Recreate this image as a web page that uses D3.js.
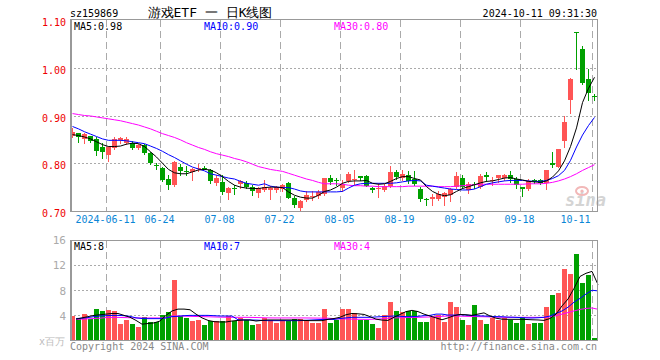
<!DOCTYPE html>
<html><head><meta charset="utf-8">
<script src="https://cdn.jsdelivr.net/npm/d3@7"></script>
<style>
body{margin:0;background:#fff;}
svg{display:block;}
text{font-family:"DejaVu Sans Mono",monospace;}
</style></head><body><svg id="c" width="660" height="360"></svg>
<script>
const dates = ["05-31","06-03","06-04","06-05","06-06","06-07","06-11","06-12","06-13","06-14","06-17","06-18","06-19","06-20","06-21",
"06-24","06-25","06-26","06-27","06-28","07-01","07-02","07-03","07-04","07-05","07-08","07-09","07-10","07-11","07-12",
"07-15","07-16","07-17","07-18","07-19","07-22","07-23","07-24","07-25","07-26","07-29","07-30","07-31","08-01","08-02",
"08-05","08-06","08-07","08-08","08-09","08-12","08-13","08-14","08-15","08-16","08-19","08-20","08-21","08-22","08-23",
"08-26","08-27","08-28","08-29","08-30","09-02","09-03","09-04","09-05","09-06","09-09","09-10","09-11","09-12","09-13",
"09-18","09-19","09-20","09-23","09-24","09-25","09-26","09-27","09-30","10-08","10-09","10-10","10-11"];
const openP = [.857,.8626,.8515,.857,.8515,.8334,.8166,.8319,.848,.843,.843,.832,.8376,.8208,.797,
.790,.7664,.7538,.7928,.7843,.7815,.7895,.791,.7859,.7593,.7607,.7384,.7485,.7566,.7593,
.751,.737,.7434,.7434,.745,.746,.7586,.7279,.7056,.7237,.7303,.732,.735,.7685,.765,
.7475,.7628,.765,.774,.7725,.749,.747,.7446,.753,.7823,.7685,.7755,.767,.7454,.7245,
.7245,.7258,.730,.7328,.7497,.7691,.744,.7555,.7509,.7747,.7625,.769,.769,.7747,.7664,
.751,.7455,.764,.764,.758,.801,.7928,.8473,.9325,1.075,1.0387,.9758,.9415];
const highP = [.873,.864,.863,.858,.854,.842,.836,.8544,.854,.854,.847,.840,.840,.823,.801,
.793,.7747,.804,.799,.7943,.790,.7985,.795,.7887,.776,.7747,.750,.7545,.765,.762,
.754,.750,.764,.753,.752,.757,.7614,.732,.723,.742,.742,.745,.7695,.7755,.7685,
.764,.782,.7865,.774,.775,.750,.758,.757,.795,.786,.786,.784,.783,.7497,.727,
.735,.7415,.740,.749,.7817,.776,.760,.760,.778,.781,.7705,.776,.778,.7845,.772,
.751,.768,.766,.768,.786,.8236,.8292,.899,.978,1.075,1.0455,.998,.945];
const lowP = [.855,.8445,.8427,.845,.818,.811,.8054,.829,.843,.840,.829,.829,.820,.799,.787,
.762,.7467,.752,.775,.775,.765,.7835,.7875,.7586,.7538,.7356,.7258,.7365,.748,.7485,
.7343,.730,.741,.725,.740,.741,.7265,.7084,.7027,.721,.7237,.727,.7337,.757,.7545,
.742,.760,.756,.765,.752,.740,.729,.742,.750,.767,.764,.758,.755,.7216,.712,
.713,.723,.712,.7216,.7475,.749,.738,.748,.748,.762,.755,.760,.765,.760,.748,
.7315,.744,.758,.7555,.7467,.7915,.7915,.8348,.906,.998,.966,.9325,.9325];
const closeP = [.866,.8544,.8613,.8473,.825,.8236,.8347,.8515,.852,.850,.832,.8376,.8222,.801,.7965,
.765,.755,.8026,.783,.7835,.7886,.7905,.790,.7635,.769,.7398,.7482,.748,.7622,.751,
.7413,.748,.7503,.749,.750,.7545,.7279,.7125,.721,.7336,.7315,.7405,.7685,.7614,.762,
.7559,.778,.767,.770,.753,.7434,.748,.753,.7823,.7712,.7768,.763,.757,.7258,.7230,
.7287,.7356,.7384,.7468,.7733,.7509,.7566,.7545,.7733,.7705,.7645,.775,.776,.7664,.755,
.7455,.7635,.762,.758,.786,.797,.8292,.8864,.9771,1.075,.9687,.9478,.9405];
const ma5P = [.860,.858,.855,.851,.845,.839,.835,.835,.836,.840,.842,.841,.835,.824,.813,
.800,.787,.780,.778,.778,.782,.786,.787,.786,.780,.772,.762,.754,.750,.748,
.747,.747,.749,.750,.750,.749,.740,.733,.729,.727,.727,.733,.741,.744,.750,
.758,.762,.763,.763,.764,.758,.756,.757,.762,.768,.772,.772,.768,.765,.751,
.741,.735,.732,.734,.741,.747,.751,.755,.759,.762,.763,.766,.769,.770,.767,
.765,.762,.761,.760,.763,.771,.784,.805,.835,.874,.927,.957,.980];
const ma10P = [.877,.872,.866,.861,.856,.851,.848,.848,.848,.847,.845,.843,.841,.836,.831,
.825,.818,.812,.805,.798,.792,.788,.784,.778,.775,.772,.769,.767,.762,.758,
.756,.754,.757,.752,.750,.749,.749,.746,.742,.740,.740,.740,.740,.740,.740,
.741,.748,.754,.757,.758,.758,.758,.758,.758,.759,.761,.763,.764,.763,.754,
.752,.750,.748,.746,.745,.744,.744,.746,.751,.756,.759,.761,.763,.764,.764,
.764,.763,.762,.762,.764,.768,.774,.785,.806,.834,.859,.879,.896];
const ma30P = [.904,.902,.900,.899,.897,.895,.893,.891,.889,.886,.883,.880,.876,.872,.867,
.862,.858,.854,.849,.843,.838,.833,.829,.824,.820,.817,.814,.810,.807,.803,
.798,.793,.790,.787,.785,.783,.779,.775,.771,.767,.764,.760,.757,.757,.757,
.756,.754,.753,.753,.752,.752,.751,.751,.751,.751,.751,.752,.752,.752,.752,
.752,.751,.751,.751,.752,.753,.754,.755,.756,.756,.756,.756,.756,.756,.756,
.756,.757,.757,.757,.758,.760,.763,.767,.772,.778,.785,.791,.797];
const volume = [3.9,3.6,4.2,3.4,5.0,4.7,4.85,4.7,2.6,3.3,2.6,2.15,3.7,3.0,2.9,
4.1,4.5,9.6,3.9,3.6,3.1,3.3,2.5,3.1,3.1,3.1,3.9,3.1,3.6,3.3,
2.5,2.6,3.6,3.3,2.8,3.3,3.1,3.4,3.4,3.1,2.8,2.8,5.0,2.8,3.3,
5.0,5.0,4.4,3.3,3.3,2.6,2.0,4.1,6.2,4.7,4.6,4.7,4.7,3.0,3.0,
3.8,4.0,3.0,6.2,5.4,3.2,2.4,5.6,3.3,2.7,3.6,3.2,3.6,3.3,2.8,
3.8,2.6,2.8,2.8,5.3,7.2,7.6,11.4,10.6,13.8,9.2,10.4,0.4];
const ma5V = [3.4,3.6,3.8,4.0,4.1,4.2,4.3,4.3,4.0,3.7,3.2,2.6,2.7,2.8,3.1,
4.0,4.7,5.0,5.0,4.9,4.2,3.6,3.2,3.0,2.95,2.95,3.1,3.2,3.27,3.27,
3.1,3.2,3.27,3.27,3.27,3.27,3.27,3.27,3.2,3.16,3.16,3.16,3.37,3.5,3.7,
4.1,4.3,4.25,4.15,3.8,3.4,3.25,3.2,3.7,4.15,4.6,4.8,4.6,4.2,3.9,
3.6,3.3,3.6,3.95,4.15,4.1,4.0,4.2,4.4,3.9,3.55,3.4,3.37,3.37,3.37,
3.35,3.3,3.27,3.2,3.5,4.2,5.5,6.6,8.3,10.2,10.7,11.0,8.9];
const ma10V = [3.5,3.55,3.65,3.8,3.9,3.95,4.0,4.0,3.95,3.85,3.6,3.5,3.48,3.48,3.48,
3.6,3.8,3.85,3.95,4.0,4.0,4.0,4.0,3.95,3.9,3.9,3.9,3.3,3.27,3.27,
3.25,3.2,3.16,3.16,3.16,3.16,3.16,3.16,3.2,3.25,3.3,3.35,3.37,3.35,3.5,
3.6,3.69,3.69,3.69,3.69,3.75,3.8,3.85,3.9,3.85,3.8,3.8,3.85,3.95,4.0,
4.2,4.2,4.05,4.05,4.1,4.05,3.98,3.93,3.9,3.85,3.8,3.78,3.72,3.7,3.65,
3.6,3.58,3.62,3.69,3.9,4.3,4.7,5.3,6.1,6.7,7.4,8.0,7.9];
const ma30V = [3.37,3.4,3.45,3.5,3.55,3.65,3.68,3.68,3.65,3.62,3.6,3.59,3.59,3.59,3.59,
3.59,3.9,3.9,3.88,3.85,3.82,3.8,3.78,3.75,3.72,3.7,3.69,3.69,3.69,3.68,
3.66,3.63,3.6,3.59,3.59,3.59,3.59,3.59,3.59,3.58,3.57,3.56,3.55,3.48,3.45,
3.43,3.4,3.38,3.37,3.37,3.4,3.45,3.55,3.6,3.62,3.65,3.67,3.69,3.72,3.75,
3.8,3.85,3.9,3.91,3.88,3.85,3.82,3.8,3.78,3.75,3.72,3.7,3.69,3.69,3.69,
3.69,3.69,3.69,3.69,3.75,3.95,4.2,4.45,4.7,4.95,5.1,5.18,4.97];
const priceTicks = [0.70,0.80,0.90,1.00,1.10];
const volTicks = [4,8,12,16];
const dateTickIdx = [6,15,25,35,45,55,65,75,87];
const dateTickLabels = ["2024-06-11","06-24","07-08","07-22","08-05","08-19","09-02","09-18","10-11"];

const RED = "#ff5555", GREEN = "#00a000", GRID = "#aaaaaa", FRAME = "#999999";
const svg = d3.select("#c");
const idx = d3.range(dates.length);
const x = d3.scaleBand().domain(idx).range([69.5, 597.5]).paddingInner(1/6).paddingOuter(1/12);
const bw = x.bandwidth();
const cx = i => Math.floor(x(i) + 2) + 0.5;
const yP = d3.scaleLinear().domain([0.70, 1.10]).range([211, 20]);
const yV = d3.scaleLinear().domain([0, 16]).range([340.5, 240]);
const up = i => closeP[i] > openP[i];

// horizontal grids
const g = svg.append("g");
g.selectAll(".hp").data(priceTicks.slice(1, 4)).join("line")
  .attr("x1", 70).attr("x2", 597).attr("y1", d => Math.round(yP(d)) + 0.5).attr("y2", d => Math.round(yP(d)) + 0.5)
  .attr("stroke", GRID).attr("stroke-dasharray", "2,2");
g.selectAll(".hv").data(volTicks.slice(0, 3)).join("line")
  .attr("x1", 70).attr("x2", 597).attr("y1", d => Math.round(yV(d)) + 0.5).attr("y2", d => Math.round(yV(d)) + 0.5)
  .attr("stroke", GRID).attr("stroke-dasharray", "2,2");
// vertical dashed grids
dateTickIdx.forEach(k => {
  const gx = Math.round(x(k)) + 0.5;
  g.append("line").attr("x1", gx).attr("x2", gx).attr("y1", 20).attr("y2", 211)
    .attr("stroke", GRID).attr("stroke-dasharray", "7,4");
  g.append("line").attr("x1", gx).attr("x2", gx).attr("y1", 241).attr("y2", 340)
    .attr("stroke", GRID).attr("stroke-dasharray", "7,4");
});

// sina watermark
const wm = svg.append("g");
wm.append("text").attr("x", 565).attr("y", 206).attr("font-family", "Liberation Sans, Arial, sans-serif")
  .attr("font-size", 17).attr("font-weight", "bold").attr("font-style", "italic").attr("fill", "#d4d4d4").text("sina");
wm.append("ellipse").attr("cx", 582).attr("cy", 191).attr("rx", 6).attr("ry", 4).attr("fill", "none").attr("stroke", "#f2b8b8").attr("stroke-width", 2);
wm.append("circle").attr("cx", 582).attr("cy", 191).attr("r", 1.6).attr("fill", "#f2b8b8");

// candles
const cg = svg.append("g").attr("shape-rendering", "crispEdges");
cg.selectAll(".wick").data(idx).join("line")
  .attr("x1", cx).attr("x2", cx)
  .attr("y1", i => Math.round(yP(highP[i]))).attr("y2", i => Math.round(yP(lowP[i])) + 1)
  .attr("stroke", i => up(i) ? RED : GREEN);
cg.selectAll(".body").data(idx).join("rect")
  .attr("x", i => x(i)).attr("width", bw)
  .attr("y", i => Math.round(yP(Math.max(openP[i], closeP[i]))))
  .attr("height", i => Math.max(1, Math.round(yP(Math.min(openP[i], closeP[i]))) - Math.round(yP(Math.max(openP[i], closeP[i])))))
  .attr("fill", i => up(i) ? RED : GREEN);

// price MAs
const lineP = arr => d3.line().x((d, i) => cx(i)).y(d => yP(d))(arr);
[[ma30P, "#ff00ff"], [ma10P, "#0000ff"], [ma5P, "#000000"]].forEach(([a, c]) =>
  svg.append("path").attr("d", lineP(a)).attr("fill", "none").attr("stroke", c).attr("stroke-width", 1));

// volume bars
svg.append("g").attr("shape-rendering", "crispEdges").selectAll("rect").data(idx).join("rect")
  .attr("x", i => x(i)).attr("width", bw)
  .attr("y", i => Math.round(yV(volume[i]))).attr("height", i => 340.5 - Math.round(yV(volume[i])))
  .attr("fill", i => up(i) ? RED : GREEN);
const lineV = arr => d3.line().x((d, i) => x(i) + 6).y(d => yV(d))(arr);
[[ma30V, "#ff00ff"], [ma10V, "#0000ff"], [ma5V, "#000000"]].forEach(([a, c]) =>
  svg.append("path").attr("d", lineV(a)).attr("fill", "none").attr("stroke", c).attr("stroke-width", 1));

// frames
const fr = svg.append("g").attr("fill", "none").attr("stroke", FRAME).attr("shape-rendering", "crispEdges");
fr.append("rect").attr("x", 70).attr("y", 19.5).attr("width", 527.5).attr("height", 191.5);
fr.append("rect").attr("x", 70).attr("y", 240).attr("width", 527.5).attr("height", 100.5);
fr.append("line").attr("x1", 70.5).attr("x2", 70.5).attr("y1", 19).attr("y2", 212).attr("stroke-width", 2);
fr.append("line").attr("x1", 70.5).attr("x2", 70.5).attr("y1", 240).attr("y2", 341).attr("stroke-width", 2);

// axes
const ax = svg.append("g").attr("transform", "translate(66,0)")
  .call(d3.axisLeft(yP).tickValues(priceTicks).tickFormat(d3.format(".2f")).tickSize(0).tickPadding(0));
ax.select(".domain").remove();
ax.selectAll("text").attr("fill", "#ee0000").attr("font-size", 10).attr("font-family", "DejaVu Sans Mono").attr("dy", "0.55em");
const avx = svg.append("g").attr("transform", "translate(66,0)")
  .call(d3.axisLeft(yV).tickValues(volTicks).tickFormat(d3.format("d")).tickSize(0).tickPadding(0));
avx.select(".domain").remove();
avx.selectAll("text").attr("fill", "#aaaaaa").attr("font-size", 11).attr("font-family", "DejaVu Sans Mono").attr("dy", "0.35em");

const xa = svg.append("g").attr("transform", "translate(0,216)")
  .call(d3.axisBottom(x).tickValues(dateTickIdx).tickSize(0).tickPadding(0)
    .tickFormat(k => dateTickLabels[dateTickIdx.indexOf(k)]));
xa.select(".domain").remove();
xa.selectAll(".tick").attr("transform", k => `translate(${x(k) - 0.5},0)`);
xa.selectAll("text").attr("fill", "#0a86d6").attr("font-size", 10).attr("font-family", "DejaVu Sans Mono").attr("dy", "0.71em")
  .attr("text-anchor", k => k === 87 ? "end" : "middle").attr("dx", k => k === 87 ? -1 : 0);

// texts
const T = (tx, ty, s, o = {}) => svg.append("text").attr("x", tx).attr("y", ty).text(s)
  .attr("font-size", o.size || 10).attr("fill", o.fill || "#000").attr("text-anchor", o.anchor || "start")
  .attr("font-family", o.font || "DejaVu Sans Mono");
T(70, 16.5, "sz159869");
T(210, 17, "游戏ETF 一 日K线图", {anchor: "middle", size: 13, font: "Noto Sans CJK SC"});
T(597, 16.5, "2024-10-11 09:31:30", {anchor: "end"});
T(74, 30, "MA5:" + d3.format(".2f")(ma5P[87]));
T(204, 30, "MA10:" + d3.format(".2f")(ma10P[87]), {fill: "#0000ff"});
T(334, 30, "MA30:" + d3.format(".2f")(ma30P[87]), {fill: "#ff00ff"});
T(74, 250, "MA5:" + Math.floor(ma5V[87]));
T(204, 250, "MA10:" + Math.floor(ma10V[87]), {fill: "#0000ff"});
T(334, 250, "MA30:" + Math.floor(ma30V[87]), {fill: "#ff00ff"});
T(65, 345, "x百万", {anchor: "end", fill: "#bbbbbb", size: 10, font: "Noto Sans CJK SC"});
T(70, 350, "Copyright 2024 SINA.COM", {fill: "#888888"});
T(597, 350, "http://finance.sina.com.cn", {anchor: "end", fill: "#888888"});
</script></body></html>
